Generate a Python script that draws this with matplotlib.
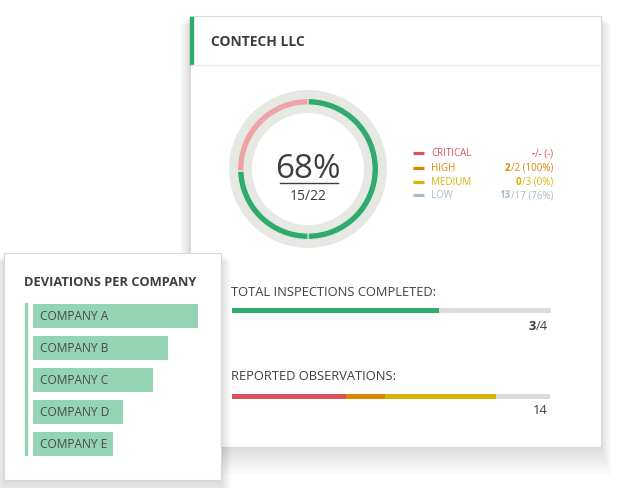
import matplotlib
matplotlib.use("Agg")
import matplotlib.pyplot as plt
from matplotlib.patches import Rectangle

plt.rcParams['font.family'] = ['Open Sans', 'DejaVu Sans']

W, H = 623, 488

# ---- Colours ----
GREEN = "#2fab6c"
PINK = "#eea3a6"
RING = "#e6e8e3"
RED = "#d9545a"
ORANGE = "#dc8500"
YELLOW = "#d6b406"
LOW = "#aabbcc"
TRACK = "#dcdcdc"
SOFT_GREEN = "#94d3b4"
TEXT = "#3e3e3e"

# ---- Data ----
company_name = "CONTECH LLC"
score_text = "68%"
score_count = "15/22"
donut_parts = [50, 24.5, 25.5]          # clockwise from the top
donut_colors = [GREEN, GREEN, PINK]

severity = ["CRITICAL", "HIGH", "MEDIUM", "LOW"]
severity_done = ["-", "2", "0", "13"]
severity_rest = ["/- (-)", "/2 (100%)", "/3 (0%)", "/17 (76%)"]
severity_colors = [RED, ORANGE, YELLOW, LOW]

inspections_done = 3
inspections_total = 4
inspections_bar = [65, 35]              # filled / remaining, as drawn
observations_total = 14
observation_parts = [36, 12, 35, 17]    # critical, high, medium, rest
observation_colors = [RED, ORANGE, YELLOW, TRACK]

companies = ["COMPANY A", "COMPANY B", "COMPANY C", "COMPANY D", "COMPANY E"]
deviations = [33, 27, 24, 18, 16]

fig = plt.figure(figsize=(W / 100, H / 100), dpi=100)
fig.patch.set_facecolor("white")


def px_axes(x0, y0, x1, y1, z=2):
    # axes placed by pixel box (top-left origin)
    ax = fig.add_axes([x0 / W, 1 - y1 / H, (x1 - x0) / W, (y1 - y0) / H])
    ax.set_zorder(z)
    ax.set_axis_off()
    return ax


# ---- Background layer in pixel coordinates ----
bg = fig.add_axes([0, 0, 1, 1])
bg.set_xlim(0, W)
bg.set_ylim(H, 0)
bg.set_axis_off()


def card(x, y, w, h, z):
    # soft drop shadow, then the white card
    for i in range(1, 18):
        bg.add_patch(Rectangle((x - i * 0.6, y + i * 0.5), w + i * 1.2, h + i * 1.2,
                               facecolor="black", edgecolor="none", alpha=0.006, zorder=z))
    bg.add_patch(Rectangle((x, y), w, h, facecolor="white", edgecolor="#d9d9d9",
                           lw=0.8, zorder=z + 0.5))


card(190, 16, 411, 431, 1)
bg.add_patch(Rectangle((190, 17), 3, 48, color=GREEN, zorder=2))
bg.plot([191, 600], [65, 65], color="#e8e8e8", lw=1, zorder=2)
bg.text(211, 46, company_name, fontsize=10, fontweight="bold", color=TEXT, zorder=3)

card(4, 253, 217, 227, 5)
bg.text(24, 285.5, "DEVIATIONS PER COMPANY", fontsize=9.3, fontweight="bold", color=TEXT, zorder=7)
bg.add_patch(Rectangle((25, 303), 2, 152, color=SOFT_GREEN, zorder=7))

renderer = fig.canvas.get_renderer()


def right_pair(x, y, bold, rest, color, size):
    t = bg.text(x, y, rest, ha="right", va="baseline", fontsize=size, color=color, zorder=3)
    bb = t.get_window_extent(renderer=renderer)
    x_left = bg.transData.inverted().transform((bb.x0, bb.y0))[0]
    bg.text(x_left, y, bold, ha="right", va="baseline", fontsize=size, color=color,
            fontweight="bold", zorder=3)


# ---- Legend ----
legend_y = [156, 171, 185, 198.5]
for name, done, rest, col, y in zip(severity, severity_done, severity_rest, severity_colors, legend_y):
    bg.plot([413, 424], [y - 3.5, y - 3.5], color=col, lw=2.3, solid_capstyle="butt", zorder=3)
    bg.text(431, y, name, fontsize=7, color=col, va="baseline", zorder=3)
    right_pair(553, y, done, rest, col, 7)

# ---- Donut ----
dax = px_axes(229, 90, 387, 248)
dax.pie([1], radius=1, colors=[RING], wedgeprops=dict(width=23 / 79, edgecolor="none"))
dax.pie(donut_parts, radius=70.5 / 79, startangle=90, counterclock=False, colors=donut_colors,
        wedgeprops=dict(width=6.5 / 79, edgecolor=RING, linewidth=0.8))
dax.set_xlim(-1, 1)
dax.set_ylim(-1, 1)

bg.text(308, 178, score_text, fontsize=24, color=TEXT, ha="center", va="baseline", zorder=3)
bg.plot([280, 338], [183, 183], color=TEXT, lw=1, zorder=3)
bg.text(308, 200, score_count, fontsize=10, color=TEXT, ha="center", va="baseline", zorder=3)

# ---- Inspections progress ----
bg.text(231, 295.5, "TOTAL INSPECTIONS COMPLETED:", fontsize=9.3, color=TEXT, zorder=3)
iax = px_axes(232, 300.5, 551, 320.5)
left = 0
for v, c in zip(inspections_bar, [GREEN, TRACK]):
    iax.barh(0, v, left=left, height=0.45, color=c)
    left += v
iax.set_xlim(0, sum(inspections_bar))
iax.set_ylim(-1, 1)
right_pair(548, 329.5, str(inspections_done), "/" + str(inspections_total), TEXT, 9.3)

# ---- Observations ----
bg.text(231, 380.5, "REPORTED OBSERVATIONS:", fontsize=9.3, color=TEXT, zorder=3)
oax = px_axes(232, 386.5, 550, 406.5)
left = 0
for v, c in zip(observation_parts, observation_colors):
    oax.barh(0, v, left=left, height=0.47, color=c)
    left += v
oax.set_xlim(0, sum(observation_parts))
oax.set_ylim(-1, 1)
bg.text(548, 414.5, str(observations_total), fontsize=9.3, color=TEXT, ha="right", zorder=3)

# ---- Deviations per company ----
cax = px_axes(33, 300, 213, 460, z=3)
cax.barh(range(len(companies)), deviations, height=0.75, color=SOFT_GREEN)
for i, name in enumerate(companies):
    cax.text(1.4, i + 0.14, name, fontsize=8.6, color="#4a4a4a", va="baseline")
cax.set_xlim(0, 36)
cax.set_ylim(len(companies) - 0.5, -0.5)

fig.savefig("out.png", dpi=100)
